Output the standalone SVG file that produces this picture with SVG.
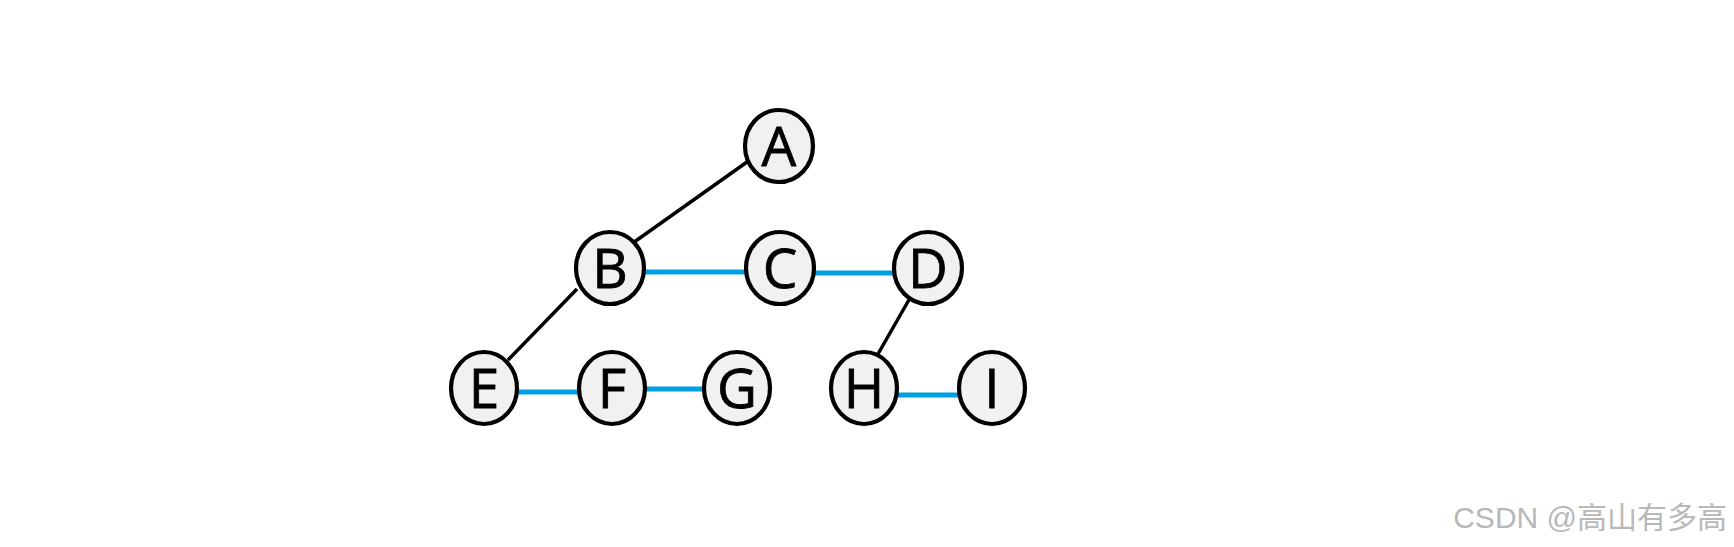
<svg xmlns="http://www.w3.org/2000/svg" width="1734" height="547" viewBox="0 0 1734 547">
<style>
.n ellipse{fill:#f1f1f1;stroke:#000;stroke-width:4.2}
.n text{font-family:"Open Sans","Liberation Sans",sans-serif;font-size:55px;fill:#000;stroke:#000;stroke-width:0.8;text-anchor:middle}
.k{stroke:#000;stroke-width:3.5;fill:none}
.b{stroke:#009fe3;stroke-width:5;fill:none}
.wm{font-family:"Liberation Sans","Noto Sans CJK SC",sans-serif;font-size:30px;fill:#b8b8b8;text-anchor:end}
</style>
<rect width="1734" height="547" fill="#fff"/>
<g id="connectors">
<line class="k" x1="747" y1="162" x2="630" y2="245"/>
<line class="k" x1="577" y1="289" x2="508" y2="360"/>
<line class="k" x1="910" y1="298" x2="878" y2="354"/>
<line class="b" x1="640" y1="272" x2="750" y2="272"/>
<line class="b" x1="813" y1="273" x2="898" y2="273"/>
<line class="b" x1="512" y1="392" x2="578" y2="392"/>
<line class="b" x1="643" y1="389" x2="704" y2="389"/>
<line class="b" x1="895" y1="395" x2="960" y2="395"/>
</g>
<g id="A" class="n"><ellipse cx="779" cy="146" rx="34" ry="36"/><text x="779" y="166">A</text></g>
<g id="B" class="n"><ellipse cx="610" cy="268" rx="34" ry="36"/><text x="610" y="288">B</text></g>
<g id="C" class="n"><ellipse cx="780" cy="268" rx="34" ry="36"/><text x="780" y="288">C</text></g>
<g id="D" class="n"><ellipse cx="928" cy="268" rx="34" ry="36"/><text x="928" y="288">D</text></g>
<g id="E" class="n"><ellipse cx="484" cy="388" rx="33" ry="36"/><text x="484" y="408">E</text></g>
<g id="F" class="n"><ellipse cx="612" cy="388" rx="33" ry="36"/><text x="612" y="408">F</text></g>
<g id="G" class="n"><ellipse cx="737" cy="388" rx="33" ry="36"/><text x="737" y="408">G</text></g>
<g id="H" class="n"><ellipse cx="864" cy="388" rx="33" ry="36"/><text x="864" y="408">H</text></g>
<g id="I" class="n"><ellipse cx="992" cy="388" rx="33" ry="36"/><text x="992" y="408">I</text></g>
<text class="wm" x="1727" y="528">CSDN @高山有多高</text>
</svg>
